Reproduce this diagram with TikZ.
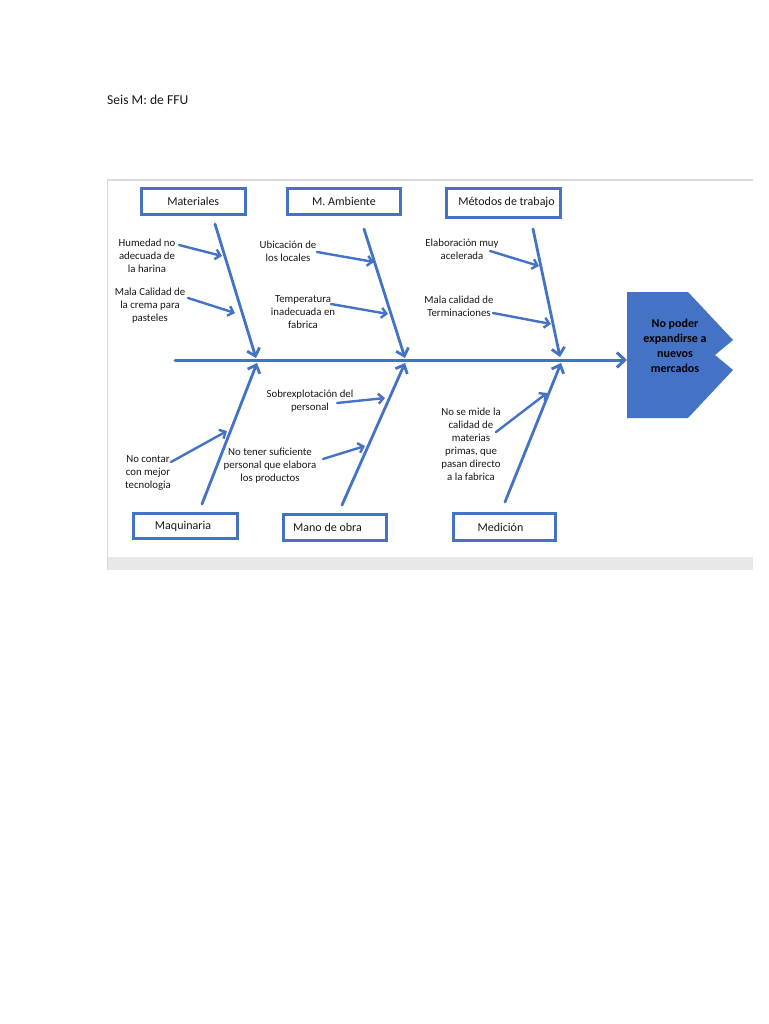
\documentclass[tikz,border=0pt]{standalone}
\usepackage{fontspec}
\setmainfont{Carlito}
\usetikzlibrary{arrows.meta}
\definecolor{fbblue}{HTML}{4472C4}
\begin{document}
\begin{tikzpicture}[x=1pt,y=-1pt,
  bone/.style={draw=fbblue,line width=2.8pt,line cap=round,-{Straight Barb[length=7pt,width=13pt]}},
  sub/.style={draw=fbblue,line width=2.4pt,line cap=round,-{Straight Barb[length=5pt,width=10pt]}},
  catbox/.style={draw=fbblue,line width=3.2pt,fill=white,inner sep=0pt,font=\fontsize{12}{14}\selectfont,text=black!90},
  lbl/.style={align=center,inner sep=0pt,font=\fontsize{10.8}{13}\selectfont,text=black!90}
]
\useasboundingbox (0,0) rectangle (768,1024);
\fill[white] (0,0) rectangle (768,1024);
% title
\node[anchor=west,inner sep=0pt,font=\fontsize{13.6}{16}\selectfont,text=black!90] (title) at (107,100) {Seis M: de FFU};
% frame
\fill[gray!18] (107,557) rectangle (753,570);
\draw[gray!30,line width=2pt] (753,180) -- (107,180);
\draw[gray!30,line width=1pt] (107,180) -- (107,570);
% head
\fill[fbblue] (627,292) -- (688,292) -- (733,340) -- (715,355) -- (733,370) -- (688,418) -- (627,418) -- cycle;
\node[align=center,inner sep=0pt,font=\bfseries\fontsize{12}{15}\selectfont,text=black] (head) at (675,345.5) {No poder\\expandirse a\\nuevos\\mercados};
\coordinate (headin) at (627,360);
% category boxes
\node[catbox,minimum width=104pt,minimum height=26pt] (mat) at (193.25,201.5) {Materiales};
\node[catbox,minimum width=113pt,minimum height=26pt] (amb) at (344,201.5) {M. Ambiente};
\node[catbox,minimum width=114pt,minimum height=29pt] (met) at (503.5,203) {\raisebox{3pt}{\hspace*{6pt}Métodos de trabajo}};
\node[catbox,minimum width=104pt,minimum height=25pt] (maq) at (185.5,526) {\raisebox{1pt}{\hspace*{-5pt}Maquinaria}};
\node[catbox,minimum width=103pt,minimum height=26pt] (mano) at (335,527.5) {\hspace*{-15pt}Mano de obra};
\node[catbox,minimum width=102pt,minimum height=27pt] (med) at (504.5,527) {\hspace*{-8pt}Medición};
% spine
\coordinate (sp0) at (175,360);
\draw[bone,line width=3pt,-{Straight Barb[length=8pt,width=15pt]}] (sp0) -- (headin);
% bone coordinates
\coordinate (b1s) at (215,224); \coordinate (b1e) at (256,358);
\coordinate (b2s) at (364,229); \coordinate (b2e) at (405,358);
\coordinate (b3s) at (533,229); \coordinate (b3e) at (560,357);
\coordinate (b4s) at (202,504); \coordinate (b4e) at (257,363);
\coordinate (b5s) at (342,505); \coordinate (b5e) at (405,363);
\coordinate (b6s) at (505,502); \coordinate (b6e) at (561,363);
\draw[bone] (b1s) -- (b1e);
\draw[bone] (b2s) -- (b2e);
\draw[bone] (b3s) -- (b3e);
\draw[bone] (b4s) -- (b4e);
\draw[bone] (b5s) -- (b5e);
\draw[bone] (b6s) -- (b6e);
% labels
\node[lbl] (l1) at (147,256) {Humedad no\\adecuada de\\la harina};
\node[lbl] (l2) at (150,306) {Mala Calidad de\\la crema para\\pasteles};
\node[lbl] (l3) at (288,251.5) {Ubicación de\\los locales};
\node[lbl] (l4) at (303,312) {Temperatura\\inadecuada en\\fabrica};
\node[lbl] (l5) at (462,249.5) {Elaboración muy\\acelerada};
\node[lbl] (l6) at (459,306) {Mala calidad de\\Terminaciones};
\node[lbl] (l7) at (310,401.5) {Sobrexplotación del\\personal};
\node[lbl] (l8) at (148,473) {No contar\\con mejor\\tecnologia};
\node[lbl] (l9) at (270,466) {No tener suficiente\\personal que elabora\\los productos};
\node[lbl] (l10) at (471,444.5) {No se mide la\\calidad de\\materias\\primas, que\\pasan directo\\a la fabrica};
% sub arrows
\coordinate (s1s) at (179,245); \coordinate (s1e) at (222,256);
\coordinate (s2s) at (188,298); \coordinate (s2e) at (235,313);
\coordinate (s3s) at (317,252); \coordinate (s3e) at (374,262);
\coordinate (s4s) at (331,304); \coordinate (s4e) at (388,314);
\coordinate (s5s) at (490,251); \coordinate (s5e) at (539,266);
\coordinate (s6s) at (493,313); \coordinate (s6e) at (551,324);
\coordinate (s7s) at (337,403); \coordinate (s7e) at (385,398);
\coordinate (s8s) at (171,462); \coordinate (s8e) at (227,431);
\coordinate (s9s) at (323,459); \coordinate (s9e) at (365,446);
\coordinate (s10s) at (496,432); \coordinate (s10e) at (547,393);
\foreach \i in {1,...,10} {\draw[sub] (s\i s) -- (s\i e);}
\end{tikzpicture}
\end{document}
